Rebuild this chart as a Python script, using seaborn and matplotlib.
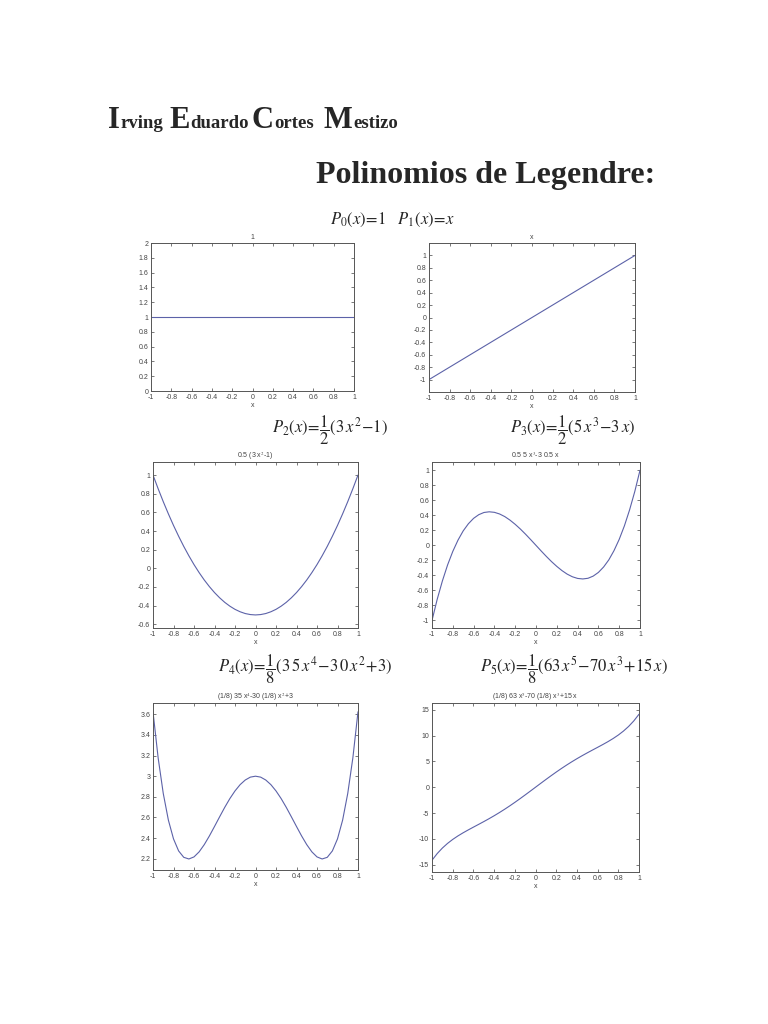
import matplotlib
matplotlib.use("Agg")
import matplotlib.pyplot as plt
import seaborn as sns
import pandas as pd

# ---------------- data ----------------
x_line = [-1.0, 1.0]
p0_vals = [1.0, 1.0]
p1_vals = [-1.0, 1.0]

x_vals = [-1.0, -0.95, -0.9, -0.85, -0.8, -0.75, -0.7, -0.65, -0.6, -0.55,
          -0.5, -0.45, -0.4, -0.35, -0.3, -0.25, -0.2, -0.15, -0.1, -0.05,
          0.0, 0.05, 0.1, 0.15, 0.2, 0.25, 0.3, 0.35, 0.4, 0.45,
          0.5, 0.55, 0.6, 0.65, 0.7, 0.75, 0.8, 0.85, 0.9, 0.95, 1.0]

p2_vals = [1.0, 0.854, 0.715, 0.584, 0.46, 0.344, 0.235, 0.134, 0.04, -0.046,
           -0.125, -0.196, -0.26, -0.316, -0.365, -0.406, -0.44, -0.466, -0.485, -0.496,
           -0.5, -0.496, -0.485, -0.466, -0.44, -0.406, -0.365, -0.316, -0.26, -0.196,
           -0.125, -0.046, 0.04, 0.134, 0.235, 0.344, 0.46, 0.584, 0.715, 0.854, 1.0]

p3_vals = [-1.0, -0.718, -0.473, -0.26, -0.08, 0.07, 0.193, 0.288, 0.36, 0.409,
           0.438, 0.447, 0.44, 0.418, 0.383, 0.336, 0.28, 0.217, 0.148, 0.075,
           0.0, -0.075, -0.148, -0.217, -0.28, -0.336, -0.383, -0.418, -0.44, -0.447,
           -0.438, -0.409, -0.36, -0.288, -0.193, -0.07, 0.08, 0.26, 0.473, 0.718, 1.0]

p4_vals = [3.625, 3.179, 2.833, 2.574, 2.392, 2.275, 2.213, 2.197, 2.217, 2.266,
           2.336, 2.42, 2.512, 2.606, 2.698, 2.783, 2.857, 2.918, 2.963, 2.991,
           3.0, 2.991, 2.963, 2.918, 2.857, 2.783, 2.698, 2.606, 2.512, 2.42,
           2.336, 2.266, 2.217, 2.197, 2.213, 2.275, 2.392, 2.574, 2.833, 3.179, 3.625]

p5_vals = [-14.125, -12.841, -11.771, -10.871, -10.1, -9.427, -8.822, -8.261, -7.722, -7.191,
           -6.652, -6.098, -5.521, -4.916, -4.283, -3.621, -2.933, -2.221, -1.491, -0.749,
           0.0, 0.749, 1.491, 2.221, 2.933, 3.621, 4.283, 4.916, 5.521, 6.098,
           6.652, 7.191, 7.722, 8.261, 8.822, 9.427, 10.1, 10.871, 11.771, 12.841, 14.125]

x_ticks = [-1, -0.8, -0.6, -0.4, -0.2, 0, 0.2, 0.4, 0.6, 0.8, 1]
x_tick_labels = ["-1", "-0.8", "-0.6", "-0.4", "-0.2", "0", "0.2", "0.4", "0.6", "0.8", "1"]

y_ticks_p0 = [0, 0.2, 0.4, 0.6, 0.8, 1, 1.2, 1.4, 1.6, 1.8, 2]
y_labels_p0 = ["0", "0.2", "0.4", "0.6", "0.8", "1", "1.2", "1.4", "1.6", "1.8", "2"]
y_ticks_p1 = [-1, -0.8, -0.6, -0.4, -0.2, 0, 0.2, 0.4, 0.6, 0.8, 1]
y_labels_p1 = ["-1", "-0.8", "-0.6", "-0.4", "-0.2", "0", "0.2", "0.4", "0.6", "0.8", "1"]
y_ticks_p2 = [-0.6, -0.4, -0.2, 0, 0.2, 0.4, 0.6, 0.8, 1]
y_labels_p2 = ["-0.6", "-0.4", "-0.2", "0", "0.2", "0.4", "0.6", "0.8", "1"]
y_ticks_p3 = y_ticks_p1
y_labels_p3 = y_labels_p1
y_ticks_p4 = [2.2, 2.4, 2.6, 2.8, 3, 3.2, 3.4, 3.6]
y_labels_p4 = ["2.2", "2.4", "2.6", "2.8", "3", "3.2", "3.4", "3.6"]
y_ticks_p5 = [-15, -10, -5, 0, 5, 10, 15]
y_labels_p5 = ["-15", "-10", "-5", "0", "5", "10", "15"]

plot_titles = ["1", "x", r"0.5 (3 x$^2$-1)", r"0.5 5 x$^3$-3 0.5 x",
               r"(1/8) 35 x$^4$-30 (1/8) x$^2$+3", r"(1/8) 63 x$^5$-70 (1/8) x$^3$+15 x"]

formula_labels = [r"$P_0(x)\!=\!1\quad P_1(x)\!=\!x$",
                  r"$P_2(x)\!=\!\dfrac{1}{2}(3\,x^2\!-\!1)$",
                  r"$P_3(x)\!=\!\dfrac{1}{2}(5\,x^3\!-\!3\,x)$",
                  r"$P_4(x)\!=\!\dfrac{1}{8}(3\,5\,x^4\!-\!3\,0\,x^2\!+\!3)$",
                  r"$P_5(x)\!=\!\dfrac{1}{8}(63\,x^5\!-\!70\,x^3\!+\!15\,x)$"]

name_parts = [("I", "rving"), ("E", "duardo"), ("C", "ortes"), ("M", "estizo")]
page_title = "Polinomios de Legendre:"

# ---------------- style ----------------
sns.set_theme(style="white")
plt.rcParams["font.family"] = ["Liberation Sans", "DejaVu Sans"]
plt.rcParams["mathtext.fontset"] = "stix"

W, H = 768, 1024
fig = plt.figure(figsize=(W / 100, H / 100), dpi=100)
fig.patch.set_facecolor("white")

line_color = "#5c62a8"
spine_color = "#555555"
tick_color = "#444444"


def axbox(x0, y0, x1, y1):
    return [x0 / W, 1 - y1 / H, (x1 - x0) / W, (y1 - y0) / H]


panels = [
    (axbox(151, 243, 354, 391), x_line, p0_vals, (0, 2), y_ticks_p0, y_labels_p0),
    (axbox(429, 243, 635, 392), x_line, p1_vals, (-1.2, 1.2), y_ticks_p1, y_labels_p1),
    (axbox(153, 462, 358, 628), x_vals, p2_vals, (-0.64, 1.14), y_ticks_p2, y_labels_p2),
    (axbox(432, 462, 640, 628), x_vals, p3_vals, (-1.1, 1.11), y_ticks_p3, y_labels_p3),
    (axbox(153, 703, 358, 870), x_vals, p4_vals, (2.09, 3.71), y_ticks_p4, y_labels_p4),
    (axbox(432, 703, 639, 872), x_vals, p5_vals, (-16.4, 16.3), y_ticks_p5, y_labels_p5),
]

for i, (box, xs, ys, ylim, yt, yl) in enumerate(panels):
    ax = fig.add_axes(box)
    df = pd.DataFrame({"x": xs, "y": ys})
    sns.lineplot(data=df, x="x", y="y", ax=ax, color=line_color, linewidth=0.8,
                 estimator=None, sort=False)
    ax.set_xlim(-1, 1)
    ax.set_ylim(*ylim)
    ax.set_xticks(x_ticks)
    ax.set_xticklabels(x_tick_labels)
    ax.set_yticks(yt)
    ax.set_yticklabels(yl)
    ax.tick_params(direction="in", length=2.5, width=0.5, top=True, right=True,
                   bottom=True, left=True, labelsize=5, colors=tick_color, pad=2)
    for s in ax.spines.values():
        s.set_color(spine_color)
        s.set_linewidth(0.7)
    ax.set_xlabel("x", fontsize=5, color=tick_color, labelpad=1)
    ax.set_ylabel("")
    ax.set_title(plot_titles[i], fontsize=5, color=tick_color, pad=3)
    ax.grid(False)

# ---------------- page texts ----------------
fig.text(330 / W, 1 - 224 / H, formula_labels[0], fontsize=12, ha="left", va="baseline")
fig.text(272 / W, 1 - 434 / H, formula_labels[1], fontsize=12, ha="left", va="baseline")
fig.text(510 / W, 1 - 434 / H, formula_labels[2], fontsize=12, ha="left", va="baseline")
fig.text(218 / W, 1 - 673 / H, formula_labels[3], fontsize=12, ha="left", va="baseline")
fig.text(480 / W, 1 - 673 / H, formula_labels[4], fontsize=12, ha="left", va="baseline")

fig.text(316 / W, 1 - 183 / H, page_title, fontsize=23, fontweight="bold",
         family="Liberation Serif", ha="left", va="baseline")

renderer = fig.canvas.get_renderer()
xpos = 108.0
baseline = 1 - 128 / H
gaps = [6, 3, 10, 0]
for (big, small), gap in zip(name_parts, gaps):
    t1 = fig.text(xpos / W, baseline, big, fontsize=22, fontweight="bold",
                  family="Liberation Serif", ha="left", va="baseline")
    bb = t1.get_window_extent(renderer)
    xpos = bb.x1 + 0.5
    t2 = fig.text(xpos / W, baseline, small, fontsize=13.5, fontweight="bold",
                  family="Liberation Serif", ha="left", va="baseline")
    bb = t2.get_window_extent(renderer)
    xpos = bb.x1 + gap

fig.savefig("out.png", dpi=100, facecolor="white")
